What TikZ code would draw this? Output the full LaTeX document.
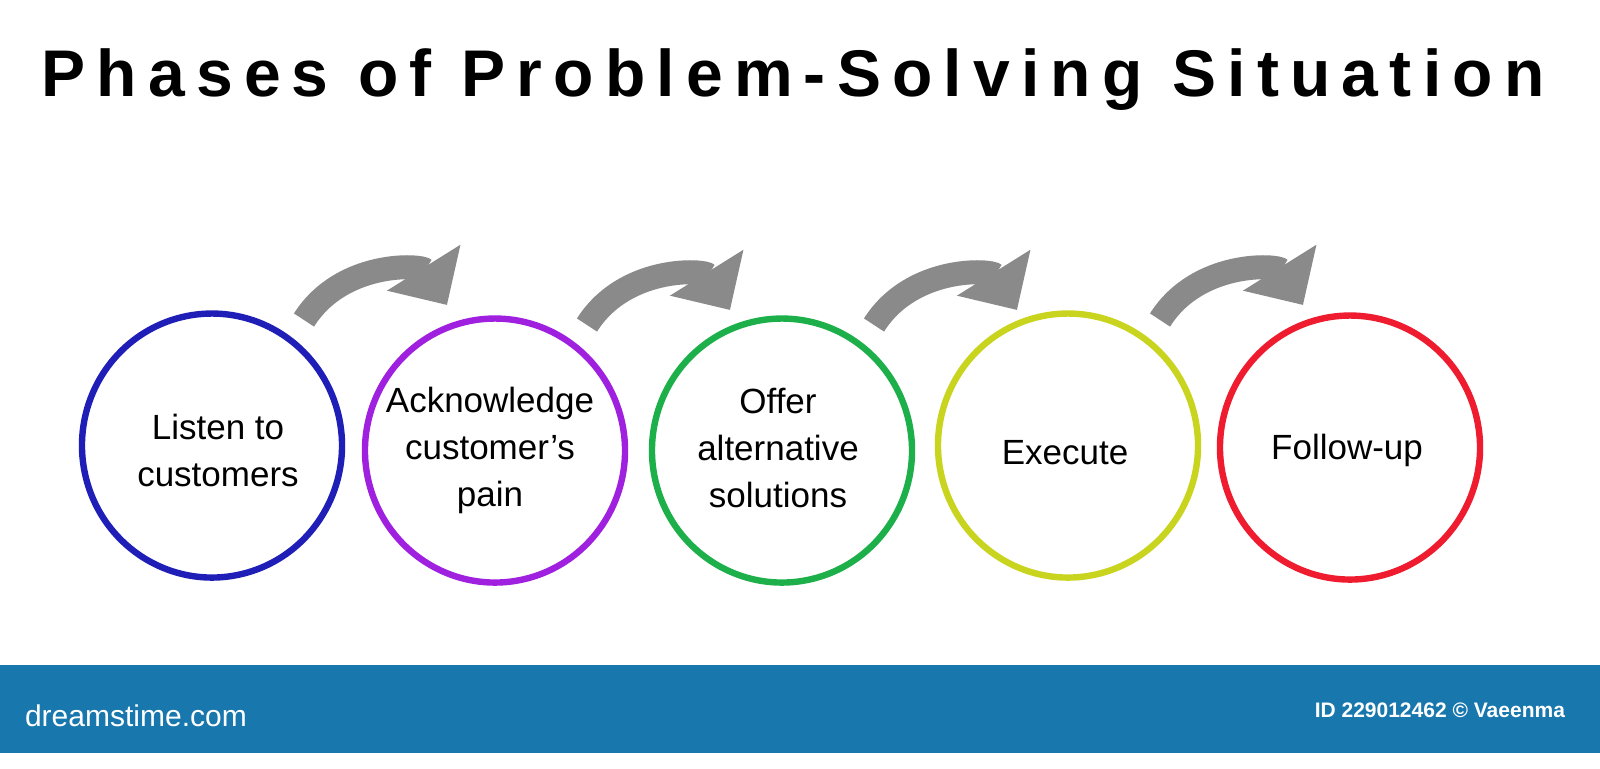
\documentclass[tikz,border=0pt]{standalone}
\usepackage{fontspec}
\setmainfont{Liberation Sans}
\usetikzlibrary{arrows.meta,calc}
\definecolor{banner}{HTML}{1877AD}
\definecolor{cblue}{HTML}{1F1FB8}
\definecolor{cpurple}{HTML}{A020E0}
\definecolor{cgreen}{HTML}{1DB04A}
\definecolor{cyellow}{HTML}{C8D41E}
\definecolor{cred}{HTML}{EE1C2E}
\definecolor{agray}{HTML}{8A8A8A}
\tikzset{
  ring/.style={line width=3.2pt, line cap=round},
  lab/.style={align=center, font=\fontsize{17.5}{23.5}\selectfont},
  carrow/.style={agray, line width=12pt, -{Triangle[width=42pt,length=22pt]}},
}
\begin{document}
\begin{tikzpicture}[x=0.5pt,y=-0.5pt]
\useasboundingbox (0,0) rectangle (1600,768);
\fill[white] (0,0) rectangle (1600,768);
\node (title) at (793,80) {\fontsize{33}{36}\bfseries\addfontfeature{LetterSpace=17}\selectfont Phases of Problem-Solving Situation};
\foreach \n/\cx/\cy/\c in {a/212/445/cblue,b/495/450/cpurple,c/782/450/cgreen,d/1068/445/cyellow,e/1350/447/cred}{
  \coordinate (\n) at (\cx,\cy);
  \draw[ring,\c] ($(\n)+(-15:130)$) arc[start angle=-15,end angle=355,x radius=130,y radius=132];
}
\node[lab] (la) at (218,450) {Listen to\\customers};
\node[lab] (lb) at (490,450) {Acknowledge\\customer's\\pain};
\node[lab] (lc) at (778,448) {Offer\\alternative\\solutions};
\node[lab] (ld) at (1065,453) {Execute};
\node[lab] (le) at (1347,450) {Follow-up};
\foreach \p/\q in {a/b,b/c,c/d,d/e}{
  \draw[carrow] ($(\p)+(92,-125)$) .. controls ($(\p)+(130,-185)$) and ($(\p)+(210,-180)$) .. ($(\p)+(235,-140)$);
}
\fill[banner] (0,665) rectangle (1600,753);
\node[white,anchor=west] (dm) at (18,716) {\fontsize{15}{16}\selectfont dreamstime.com};
\node[white,anchor=east] (id) at (1572,710) {\fontsize{10.5}{12}\bfseries\selectfont ID 229012462 © Vaeenma};
\end{tikzpicture}
\end{document}
